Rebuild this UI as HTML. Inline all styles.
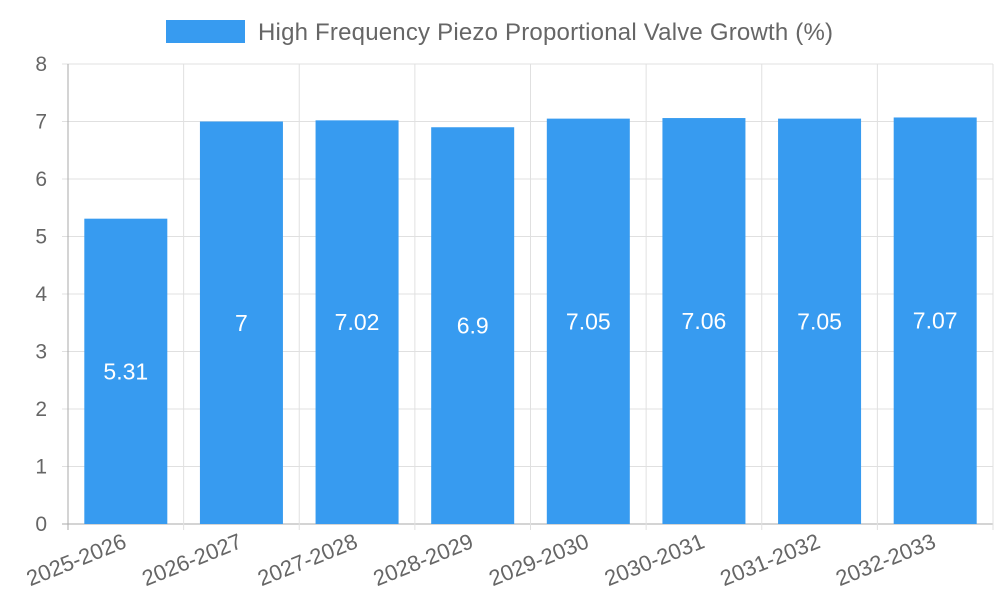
<!DOCTYPE html>
<html><head><meta charset="utf-8"><style>
body{margin:0;background:#fff;}
svg{display:block;font-family:"Liberation Sans",Arial,sans-serif;}
</style></head><body>
<svg id="chart" width="1000" height="600">
<g id="legend">
<rect x="166" y="20" width="79" height="23" fill="#379bf0"/>
<text x="258" y="40" font-size="24" textLength="575" fill="#666">High Frequency Piezo Proportional Valve Growth (%)</text>
</g>
<g id="grid"></g><g id="bars"></g><g id="labels"></g>
</svg>
<script>
const categories=["2025-2026","2026-2027","2027-2028","2028-2029","2029-2030","2030-2031","2031-2032","2032-2033"];
const values=[5.31,7,7.02,6.9,7.05,7.06,7.05,7.07];
const valueLabels=["5.31","7","7.02","6.9","7.05","7.06","7.05","7.07"];
const yTicks=[0,1,2,3,4,5,6,7,8];
const L=68,R=993,T=64,B=524,yMax=8;
const ns="http://www.w3.org/2000/svg";
const y=v=>B-(v/yMax)*(B-T);
const bw=(R-L)/categories.length;
const x=i=>L+bw*i;
function mk(tag,attrs,parent){const e=document.createElementNS(ns,tag);for(const k in attrs)e.setAttribute(k,attrs[k]);parent.appendChild(e);return e;}
const grid=document.getElementById('grid'),bars=document.getElementById('bars'),labels=document.getElementById('labels');
yTicks.forEach(t=>{
 const ln=mk('line',{x1:L-6,x2:R,y1:y(t),y2:y(t),stroke:t===0?'#aaa':'#e0e0e0','stroke-width':1},grid);
 
 
 const tx=mk('text',{x:47,y:y(t)+7,'text-anchor':'end','font-size':21,fill:'#666'},grid);
 tx.textContent=t;
 
 
});
for(let i=0;i<=categories.length;i++){
 const ln=mk('line',{x1:x(i),x2:x(i),y1:T,y2:B+6,stroke:i===0?'#aaa':'#e0e0e0','stroke-width':1},grid);
 
 
}
categories.forEach((c,i)=>{
 const cx=x(i)+bw/2,w=83;
 const r=mk('rect',{x:cx-w/2,y:y(values[i]),width:w,height:B-y(values[i]),fill:'#379bf0'},bars);
 
 
 const v=mk('text',{x:cx,y:(y(values[i])+B)/2+8,'text-anchor':'middle','font-size':23,fill:'#fff'},labels);
 v.textContent=valueLabels[i];
 
 
 const t=mk('text',{x:cx+2,y:547,'text-anchor':'end','font-size':22,fill:'#666',transform:`rotate(-22 ${cx+2} 547)`},labels);
 t.textContent=c;
 
 
});
</script>
</body></html>
